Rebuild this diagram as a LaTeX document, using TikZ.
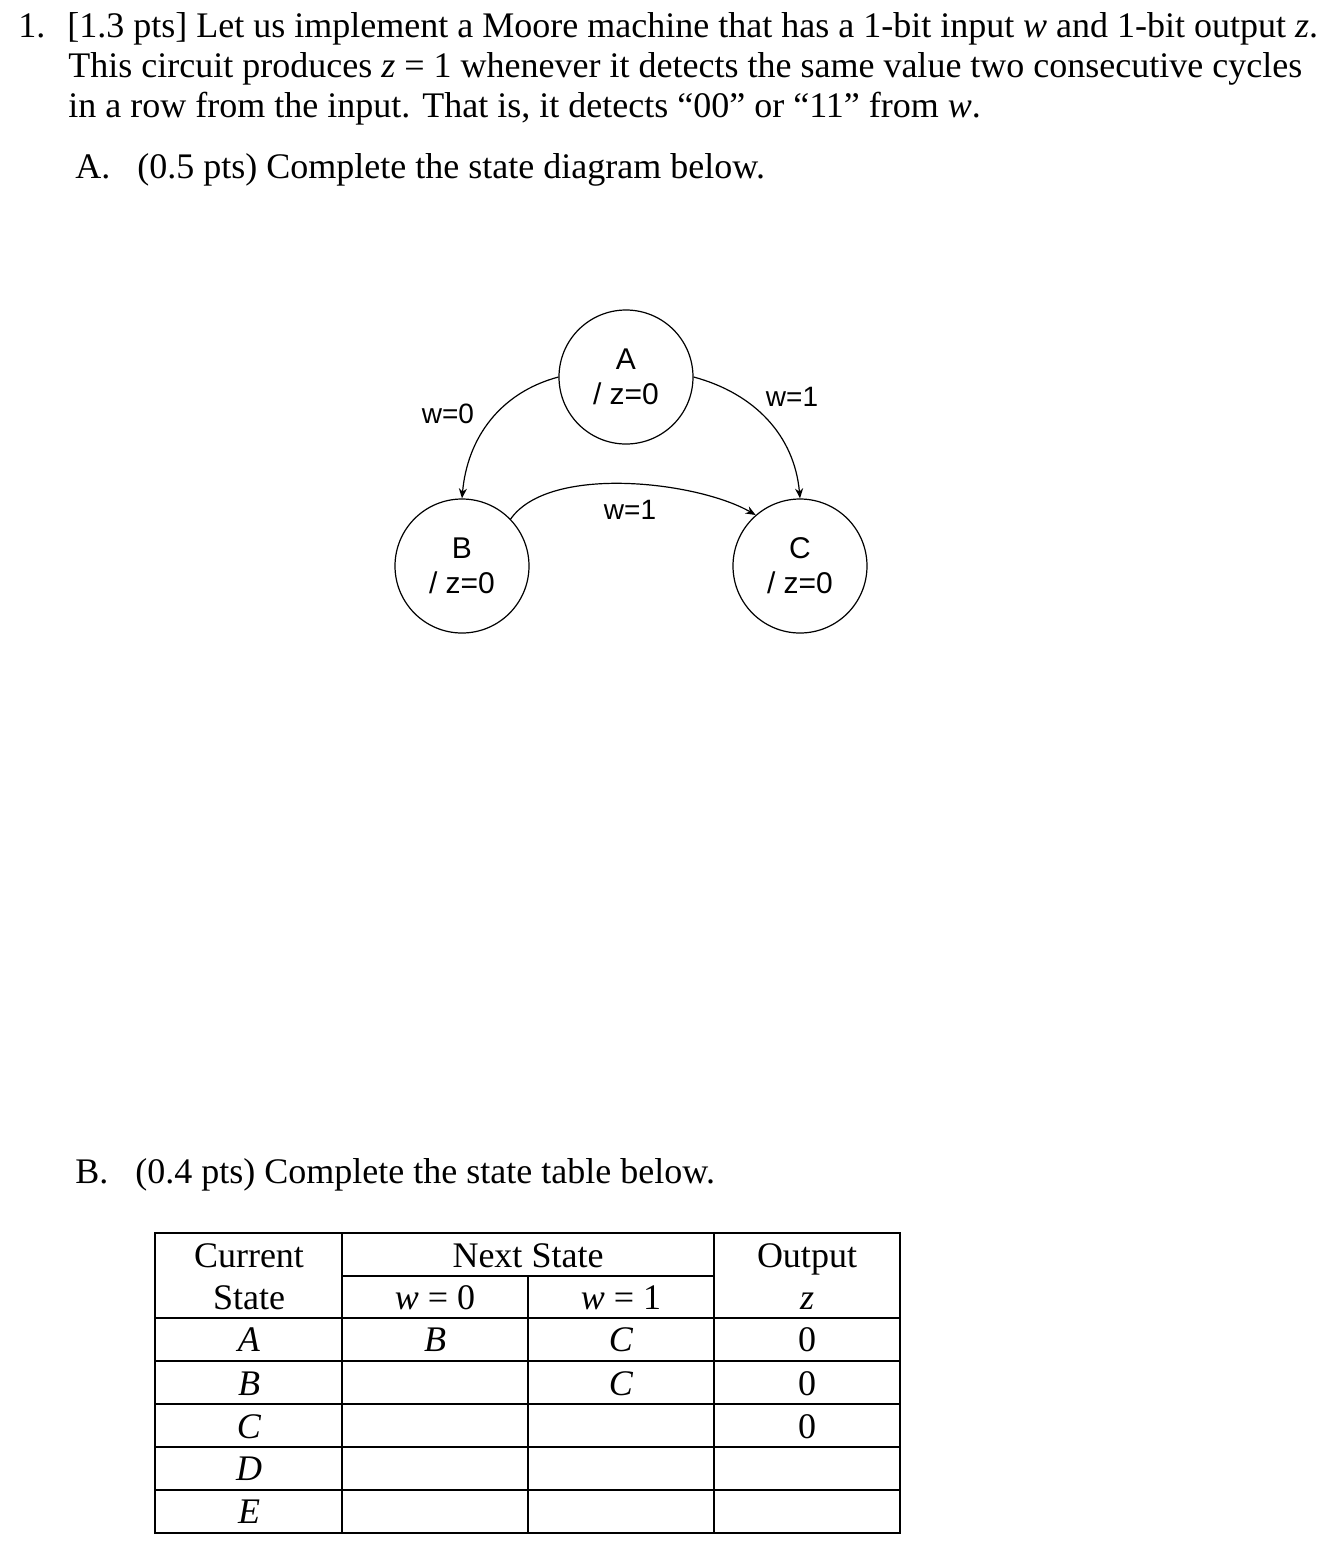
\documentclass[tikz,border=0pt]{standalone}
\usepackage{fontspec}
\setmainfont{Liberation Serif}
\newfontfamily\diagfont{Liberation Sans}
\usetikzlibrary{arrows.meta}

\begin{document}
\begin{tikzpicture}[
  x=0.5pt, y=0.5pt,
  every node/.style={inner sep=0pt},
  txt/.style={anchor=base west, font=\fontsize{18}{20}\selectfont},
  cell/.style={anchor=base, font=\fontsize{18}{20}\selectfont},
  % states of the Moore machine and their transitions
  state/.style={circle, draw, line width=0.6pt, minimum size=67pt,
    align=center, font=\diagfont\fontsize{15}{17.5}\selectfont},
  trans/.style={draw, line width=0.6pt, -{Stealth[length=5pt, width=4pt]}},
  lbl/.style={font=\diagfont\fontsize{14}{15}\selectfont},
  rule/.style={draw, line width=0.9pt}]

  \useasboundingbox (0,0) rectangle (1322,-1560);

  % question text
  \node[txt] (num)   at (18,-37)  {1.};
  \node[txt] (q1)    at (67,-37)  {[1.3 pts] Let us implement a Moore machine that has a 1-bit input \textit{w} and 1-bit output \textit{z}.};
  \node[txt] (q2)    at (68,-77)  {This circuit produces \textit{z} = 1 whenever it detects the same value two consecutive cycles};
  \node[txt] (q3)    at (68,-117) {in a row from the input. That is, it detects “00” or “11” from \textit{w}.};
  \node[txt] (parta) at (75,-178) {A.\hspace{0.75em}(0.5 pts) Complete the state diagram below.};
  \node[txt] (partb) at (75,-1183) {B.\hspace{0.75em}(0.4 pts) Complete the state table below.};

  % states
  \node[state] (a) at (626,-377) {A\\/ z=0};
  \node[state] (b) at (462,-566) {B\\/ z=0};
  \node[state] (c) at (800,-566) {C\\/ z=0};

  % transitions
  \draw[trans] (a.west) to[out=195, in=85]  (b.north);
  \draw[trans] (a.east) to[out=-15, in=95]  (c.north);
  \draw[trans] (b.44)   to[out=55, in=150, looseness=0.7] (c.131);

  % transition labels
  \node[lbl] (l0)  at (448,-414) {w=0};
  \node[lbl] (l1)  at (792,-397) {w=1};
  \node[lbl] (l2)  at (630,-510) {w=1};

  % state table grid
  \draw[rule] (155,-1233) rectangle (900,-1533);
  \draw[rule] (342,-1233) -- (342,-1533);
  \draw[rule] (714,-1233) -- (714,-1533);
  \draw[rule] (528,-1276) -- (528,-1533);
  \draw[rule] (342,-1276) -- (714,-1276);
  \draw[rule] (155,-1318) -- (900,-1318);
  \draw[rule] (155,-1361) -- (900,-1361);
  \draw[rule] (155,-1404) -- (900,-1404);
  \draw[rule] (155,-1447) -- (900,-1447);
  \draw[rule] (155,-1490) -- (900,-1490);

  % table header
  \node[cell] (hcur)  at (249,-1267) {Current};
  \node[cell] (hst)   at (249,-1309) {State};
  \node[cell] (hnext) at (528,-1267) {Next State};
  \node[cell] (hw0)   at (435,-1309) {\textit{w} = 0};
  \node[cell] (hw1)   at (621,-1309) {\textit{w} = 1};
  \node[cell] (hout)  at (807,-1267) {Output};
  \node[cell] (hz)    at (807,-1309) {\textit{z}};

  % table rows
  \node[cell] (ra)  at (249,-1351) {\textit{A}};
  \node[cell] (rb)  at (249,-1395) {\textit{B}};
  \node[cell] (rc)  at (249,-1438) {\textit{C}};
  \node[cell] (rd)  at (249,-1480) {\textit{D}};
  \node[cell] (re)  at (249,-1523) {\textit{E}};
  \node[cell] (ab)  at (435,-1351) {\textit{B}};
  \node[cell] (ac)  at (621,-1351) {\textit{C}};
  \node[cell] (bc)  at (621,-1395) {\textit{C}};
  \node[cell] (az)  at (807,-1351) {0};
  \node[cell] (bz)  at (807,-1395) {0};
  \node[cell] (cz)  at (807,-1438) {0};
\end{tikzpicture}
\end{document}
